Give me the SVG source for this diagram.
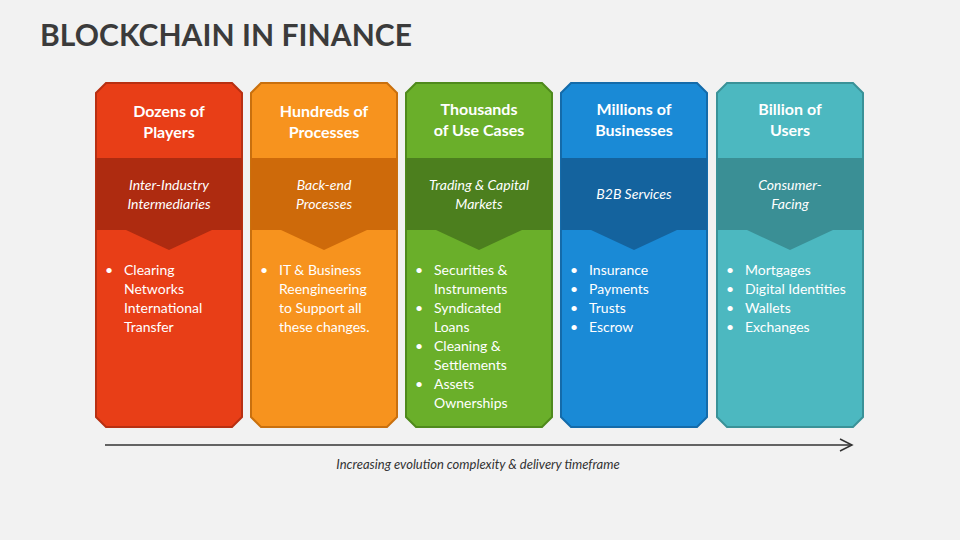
<svg xmlns="http://www.w3.org/2000/svg" width="960" height="540" viewBox="0 0 960 540">
<style>
.t{font-family:Lato,"Open Sans",sans-serif;fill:#fff}
.h{font-size:16px;font-weight:bold}
.s{font-size:14px;font-style:italic}
.b{font-size:14px}
.box{stroke-width:2}
</style>
<rect width="960" height="540" fill="#f2f2f2"/>
<text x="40" y="46" font-family="Lato,'Open Sans',sans-serif" font-weight="bold" font-size="30" textLength="372" fill="#3b3b3b">BLOCKCHAIN IN FINANCE</text>
<defs>
<path id="shape" d="M10,0H136L146,10V334L136,344H10L0,334V10Z"/>
<path id="band" d="M0,75H146V147H116L73,167L30,147H0Z"/>
</defs>
<g id="col1" transform="translate(96,83)">
<use href="#shape" fill="#E83E17" stroke="#B83012" class="box"/>
<use href="#band" fill="#AE2B10"/>
<text class="t h" text-anchor="middle"><tspan x="73" y="34">Dozens of</tspan><tspan x="73" y="55">Players</tspan></text>
<text class="t s" text-anchor="middle"><tspan x="73" y="107">Inter-Industry</tspan><tspan x="73" y="126">Intermediaries</tspan></text>
<text class="t b"><tspan x="9" y="192">•</tspan><tspan x="28" y="192">Clearing</tspan><tspan x="28" y="211">Networks</tspan><tspan x="28" y="230">International</tspan><tspan x="28" y="249">Transfer</tspan></text>
</g>
<g id="col2" transform="translate(251,83)">
<use href="#shape" fill="#F7931E" stroke="#C9700E" class="box"/>
<use href="#band" fill="#CE6A0A"/>
<text class="t h" text-anchor="middle"><tspan x="73" y="34">Hundreds of</tspan><tspan x="73" y="55">Processes</tspan></text>
<text class="t s" text-anchor="middle"><tspan x="73" y="107">Back-end</tspan><tspan x="73" y="126">Processes</tspan></text>
<text class="t b"><tspan x="9" y="192">•</tspan><tspan x="28" y="192">IT &amp; Business</tspan><tspan x="28" y="211">Reengineering</tspan><tspan x="28" y="230">to Support all</tspan><tspan x="28" y="249">these changes.</tspan></text>
</g>
<g id="col3" transform="translate(406,83)">
<use href="#shape" fill="#6AAF2A" stroke="#4F8A1C" class="box"/>
<use href="#band" fill="#4C7F1E"/>
<text class="t h" text-anchor="middle"><tspan x="73" y="32">Thousands</tspan><tspan x="73" y="53">of Use Cases</tspan></text>
<text class="t s" text-anchor="middle"><tspan x="73" y="107">Trading &amp; Capital</tspan><tspan x="73" y="126">Markets</tspan></text>
<text class="t b"><tspan x="9" y="192">•</tspan><tspan x="28" y="192">Securities &amp;</tspan><tspan x="28" y="211">Instruments</tspan><tspan x="9" y="230">•</tspan><tspan x="28" y="230">Syndicated</tspan><tspan x="28" y="249">Loans</tspan><tspan x="9" y="268">•</tspan><tspan x="28" y="268">Cleaning &amp;</tspan><tspan x="28" y="287">Settlements</tspan><tspan x="9" y="306">•</tspan><tspan x="28" y="306">Assets</tspan><tspan x="28" y="325">Ownerships</tspan></text>
</g>
<g id="col4" transform="translate(561,83)">
<use href="#shape" fill="#1A8AD6" stroke="#146BAA" class="box"/>
<use href="#band" fill="#14639E"/>
<text class="t h" text-anchor="middle"><tspan x="73" y="32">Millions of</tspan><tspan x="73" y="53">Businesses</tspan></text>
<text class="t s" text-anchor="middle"><tspan x="73" y="116">B2B Services</tspan></text>
<text class="t b"><tspan x="9" y="192">•</tspan><tspan x="28" y="192">Insurance</tspan><tspan x="9" y="211">•</tspan><tspan x="28" y="211">Payments</tspan><tspan x="9" y="230">•</tspan><tspan x="28" y="230">Trusts</tspan><tspan x="9" y="249">•</tspan><tspan x="28" y="249">Escrow</tspan></text>
</g>
<g id="col5" transform="translate(717,83)">
<use href="#shape" fill="#4CB8C0" stroke="#3A9298" class="box"/>
<use href="#band" fill="#3A8F95"/>
<text class="t h" text-anchor="middle"><tspan x="73" y="32">Billion of</tspan><tspan x="73" y="53">Users</tspan></text>
<text class="t s" text-anchor="middle"><tspan x="73" y="107">Consumer-</tspan><tspan x="73" y="126">Facing</tspan></text>
<text class="t b"><tspan x="9" y="192">•</tspan><tspan x="28" y="192">Mortgages</tspan><tspan x="9" y="211">•</tspan><tspan x="28" y="211">Digital Identities</tspan><tspan x="9" y="230">•</tspan><tspan x="28" y="230">Wallets</tspan><tspan x="9" y="249">•</tspan><tspan x="28" y="249">Exchanges</tspan></text>
</g>
<g id="connectors" stroke="#333" stroke-width="1.5" fill="none">
<line x1="105" y1="445" x2="852" y2="445"/>
<polyline points="840,439 852,445 840,451"/>
</g>
<text x="478" y="469" text-anchor="middle" font-family="Lato,'Open Sans',sans-serif" font-style="italic" font-size="13" fill="#333">Increasing evolution complexity &amp; delivery timeframe</text>
</svg>
